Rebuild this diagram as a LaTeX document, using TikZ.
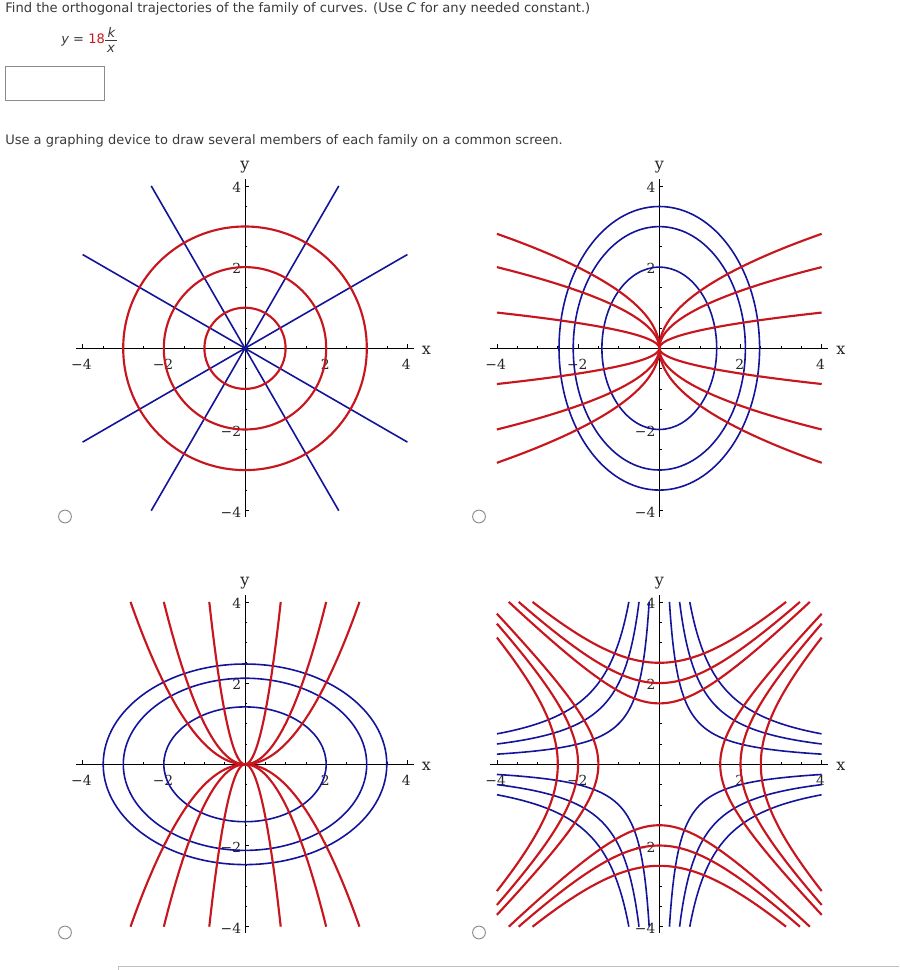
\documentclass[tikz,border=0pt]{standalone}
\usepackage{fontspec}
\setmainfont{DejaVu Sans}
\newfontfamily\plotfont{DejaVu Serif}
\definecolor{txt}{HTML}{3A3A3A}
\definecolor{cred}{HTML}{C8161E}
\definecolor{cblue}{HTML}{14149A}
\definecolor{frm}{HTML}{8C8C8C}
\tikzset{
  curvered/.style={draw=cred,line width=1.6pt},
  curveblue/.style={draw=cblue,line width=1.2pt},
  axisline/.style={draw=black,line width=0.6pt},
  ticklabel/.style={inner sep=0pt,font=\plotfont\fontsize{10.4}{12}\selectfont,text=black!85},
  axislabel/.style={inner sep=0pt,font=\plotfont\fontsize{12}{12}\selectfont,text=black!85},
  bodytext/.style={inner sep=0pt,anchor=base west,font=\fontsize{9.75}{12}\selectfont,text=txt},
  radio/.style={circle,draw=frm,line width=0.7pt,minimum size=9.6pt,inner sep=0pt,fill=white},
}
\newcommand{\plotaxes}[1]{%
  \draw[axisline] (-4.16,0) -- (4.16,0);
  \draw[axisline] (0,-4.16) -- (0,4.16);
  \foreach \t in {-4,-3.5,...,4.01}{
    \draw[axisline] (\t,0) -- (\t,0.055);
    \draw[axisline] (0,\t) -- (0.055,\t);}
  \foreach \t in {-4,-2,2,4}{
    \draw[axisline] (\t,0) -- (\t,0.1);
    \draw[axisline] (0,\t) -- (0.1,\t);}
  \node[ticklabel] (#1xm4) at (-4.03,-0.39) {−4};
  \node[ticklabel] (#1xm2) at (-2.02,-0.39) {−2};
  \node[ticklabel] (#1xp2) at (1.98,-0.39) {2};
  \node[ticklabel] (#1xp4) at (3.97,-0.39) {4};
  \node[ticklabel,anchor=east] (#1yp4) at (-0.09,3.96) {4};
  \node[ticklabel,anchor=east] (#1yp2) at (-0.09,1.96) {2};
  \node[ticklabel,anchor=east] (#1ym2) at (-0.09,-2.04) {−2};
  \node[ticklabel,anchor=east] (#1ym4) at (-0.09,-4.04) {−4};
  \node[axislabel] (#1xlab) at (4.47,-0.04) {x};
  \node[axislabel] (#1ylab) at (0,4.47) {y};
}
\begin{document}
\begin{tikzpicture}[x=0.75pt,y=-0.75pt]
\useasboundingbox (0,0) rectangle (899,970);
\fill[white] (0,0) rectangle (899,970);
\node[bodytext,font=\fontsize{9.83}{12}\selectfont] (question) at (5,12.5) {Find the orthogonal trajectories of the family of curves. (Use \textit{C} for any needed constant.)};
\node[bodytext] (eqy) at (61,44) {\textit{y} =};
\node[bodytext,text=cred] (eq18) at (88,44) {18};
\node[inner sep=0pt,font=\fontsize{9.9}{12}\selectfont\itshape,text=txt] (eqk) at (111.5,32) {k};
\node[inner sep=0pt,font=\fontsize{9.9}{12}\selectfont\itshape,text=txt] (eqx) at (111,49) {x};
\draw[txt,line width=0.5pt] (105,40) -- (117,40);
\node[draw=frm,line width=0.75pt,anchor=north west,minimum width=74pt,minimum height=25pt,inner sep=0pt] (answer) at (5,66.5) {};
\node[bodytext] (instruction) at (5,144.5) {Use a graphing device to draw several members of each family on a common screen.};
% Plot A
\begin{scope}[shift={(245,348.3)},x=30.45pt,y=30.45pt]
  \plotaxes{a}
  \foreach \a/\b in {4/2.31,2.31/4}{
    \draw[curveblue] (-\a,-\b) -- (\a,\b);
    \draw[curveblue] (-\a,\b) -- (\a,-\b);}
  \foreach \r in {1,2,3}{\draw[curvered] (0,0) circle[radius=\r];}
\end{scope}
% Plot B
\begin{scope}[shift={(659.3,348.3)},x=30.45pt,y=30.45pt]
  \plotaxes{b}
  \foreach \c in {1.414,2.12,2.47}{\draw[curveblue] (0,0) ellipse[x radius=\c,y radius=1.414*\c];}
  \foreach \k in {1.41,1,0.44}{\foreach \s in {1,-1}{
    \draw[curvered] plot[domain=-2:2,samples=41,smooth] ({\s*\x*\x},{\k*\x});}}
\end{scope}
% Plot C
\begin{scope}[shift={(245,764.3)},x=30.45pt,y=30.45pt]
  \plotaxes{c}
  \foreach \c in {1.414,2.12,2.47}{\draw[curveblue] (0,0) ellipse[x radius=1.414*\c,y radius=\c];}
  \foreach \k in {1.41,1,0.44}{\foreach \s in {1,-1}{
    \draw[curvered] plot[domain=-2:2,samples=41,smooth] ({\k*\x},{\s*\x*\x});}}
\end{scope}
% Plot D
\begin{scope}[shift={(659.3,764.3)},x=30.45pt,y=30.45pt]
  \plotaxes{d}
  \foreach \c in {1,2,3}{
    \pgfmathsetmacro{\lo}{ln(\c/4)}
    \pgfmathsetmacro{\hi}{ln(4)}
    \foreach \s/\u in {1/1,1/-1,-1/1,-1/-1}{
      \draw[curveblue] plot[domain=\lo:\hi,samples=50,smooth] ({\s*exp(\x)},{\u*\c*exp(-\x)});}}
  \foreach \c in {2.25,4,6.25}{
    \pgfmathsetmacro{\m}{sqrt(16-\c)}
    \foreach \s in {1,-1}{
      \draw[curvered] plot[domain=-\m:\m,samples=41,smooth] ({\x},{\s*sqrt(\c+\x*\x)});
      \draw[curvered] plot[domain=-\m:\m,samples=41,smooth] ({\s*sqrt(\c+\x*\x)},{\x});}}
\end{scope}
\node[radio] (ra) at (65,516.5) {};
\node[radio] (rb) at (479,516.5) {};
\node[radio] (rc) at (65,932.5) {};
\node[radio] (rd) at (479,932.5) {};
\draw[black!25,line width=0.6pt] (899,966) -- (118.5,966) -- (118.5,970);
\end{tikzpicture}
\end{document}
